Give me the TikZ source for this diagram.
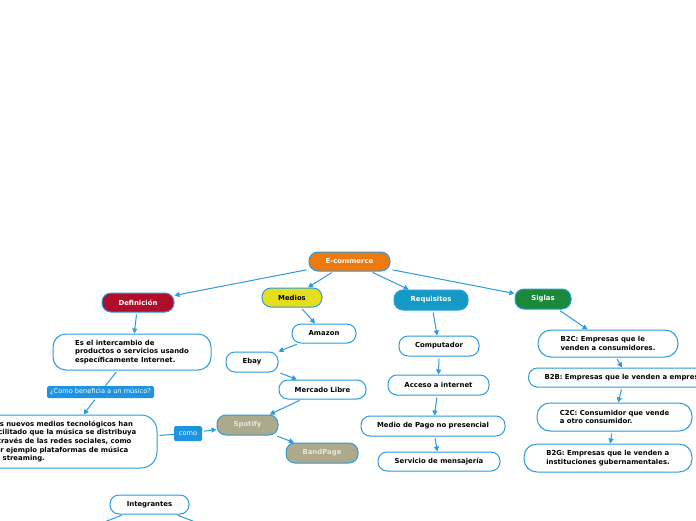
\documentclass[tikz,border=0pt]{standalone}
\usepackage{fontspec}
\setmainfont{DejaVu Sans}
\usetikzlibrary{arrows.meta}
\definecolor{lnk}{HTML}{2A9BE0}
\definecolor{lblue}{HTML}{1E93DF}
\definecolor{corange}{HTML}{EE7A0E}
\definecolor{ccrimson}{HTML}{B00D2A}
\definecolor{cyellow}{HTML}{E6DD1E}
\definecolor{cteal}{HTML}{159AC5}
\definecolor{cgreen}{HTML}{1A8A3A}
\definecolor{ckhaki}{HTML}{ADA98D}
\definecolor{ckhakitxt}{HTML}{E8E6DA}
\begin{document}
\begin{tikzpicture}[x=1pt,y=-1pt,
  box/.style={draw=lnk, line width=1pt, rounded corners=9pt, fill=white,
    font=\fontsize{6.9}{8.6}\selectfont\bfseries, inner sep=0pt,
    minimum height=19pt, align=center},
  multibox/.style={box, align=left, rounded corners=13pt},
  topic/.style={box, text=white},
  lbl/.style={fill=lblue, rounded corners=1.5pt, text=white, inner sep=0pt,
    font=\fontsize{6.6}{8}\selectfont, minimum height=12pt},
  link/.style={draw=lnk, line width=1pt, -{Triangle[length=5pt,width=5pt]}, shorten <=2pt},
  plain/.style={draw=lnk, line width=1pt, shorten <=2pt}
]
\clip (0,0) rectangle (696,520);
\fill[white] (0,0) rectangle (696,520);

% top level
\node[topic, fill=corange, minimum width=81pt] (ecom) at (349.5,261.5) {E-commerce};
\node[topic, fill=ccrimson, minimum width=72pt] (defi) at (138,302.5) {Definición};
\node[box, fill=cyellow, minimum width=60pt] (medios) at (292,297.5) {Medios};
\node[topic, fill=cteal, minimum width=74pt, minimum height=20pt] (req) at (431,300) {Requisitos};
\node[topic, fill=cgreen, minimum width=56pt, minimum height=20pt] (siglas) at (543,299) {Siglas};

% definicion branch
\node[multibox, minimum width=158pt, minimum height=36pt] (defbox) at (132,352)
  {Es el intercambio de\\productos o servicios usando\\específicamente Internet.};
\node[lbl, minimum width=107pt] (q) at (100.5,392) {¿Como beneficia a un músico?};
\node[multibox, rounded corners=16pt, minimum width=187pt, minimum height=53pt] (big) at (63.5,441.5)
  {Los nuevos medios tecnológicos han\\facilitado que la música se distribuya\\a través de las redes sociales, como\\por ejemplo plataformas de música\\en streaming.};
\node[lbl, minimum width=28pt, minimum height=15pt] (como) at (188,433.5) {como};
\node[topic, fill=ckhaki, text=ckhakitxt, minimum width=61pt, minimum height=20pt] (spot) at (247.5,425) {Spotify};
\node[topic, fill=ckhaki, text=ckhakitxt, minimum width=72pt, minimum height=20pt] (band) at (322,453) {BandPage};

% medios branch
\node[box, minimum width=64pt] (amazon) at (324,333.5) {Amazon};
\node[box, minimum width=52pt, minimum height=20pt] (ebay) at (252,362) {Ebay};
\node[box, minimum width=87pt] (ml) at (322.5,389.5) {Mercado Libre};

% requisitos branch
\node[box, minimum width=80pt, minimum height=20pt] (comp) at (439,346) {Computador};
\node[box, minimum width=101pt, minimum height=20pt] (acc) at (438.5,385) {Acceso a internet};
\node[box, minimum width=144pt, minimum height=20pt] (pago) at (433,426) {Medio de Pago no presencial};
\node[box, minimum width=122pt] (serv) at (439,461.5) {Servicio de mensajería};

% siglas branch
\node[multibox, minimum width=140pt, minimum height=27pt] (b2c) at (608,343.5)
  {B2C: Empresas que le\\venden a consumidores.};
\node[box, anchor=west, inner xsep=16pt] (b2b) at (528,377.5)
  {B2B: Empresas que le venden a empresas.};
\node[multibox, minimum width=155pt, minimum height=28pt] (c2c) at (614.5,417)
  {C2C: Consumidor que vende\\a otro consumidor.};
\node[multibox, minimum width=168pt, minimum height=28pt] (b2g) at (608,458)
  {B2G: Empresas que le venden a\\instituciones gubernamentales.};

% integrantes
\node[box, minimum width=79pt] (integ) at (149.5,504.5) {Integrantes};
\coordinate (intL) at (72,534.5);
\coordinate (intR) at (228,534.5);

% connectors
\draw[link] (ecom) -- (defi);
\draw[link] (ecom) -- (medios);
\draw[link] (ecom) -- (req);
\draw[link] (ecom) -- (siglas);

\draw[link] (defi) -- (defbox);
\draw[plain] (defbox) -- (q);
\draw[link] (q) -- (big);
\draw[plain] (big) -- (como);
\draw[link] (como) -- (spot);
\draw[link] (spot) -- (band);

\draw[link] (medios) -- (amazon);
\draw[link] (amazon) -- (ebay);
\draw[link] (ebay) -- (ml);
\draw[link] (ml) -- (spot);

\draw[link] (req) -- (comp);
\draw[link] (comp) -- (acc);
\draw[link] (acc) -- (pago);
\draw[link] (pago) -- (serv);

\draw[link] (siglas) -- (b2c);
\draw[link] (b2c) -- (b2b.north -| 622,0);
\draw[link] (b2b.south -| 622,0) -- (c2c);
\draw[link] (c2c) -- (b2g);

\draw[plain] (integ) -- (intL);
\draw[plain] (integ) -- (intR);
\end{tikzpicture}
\end{document}
